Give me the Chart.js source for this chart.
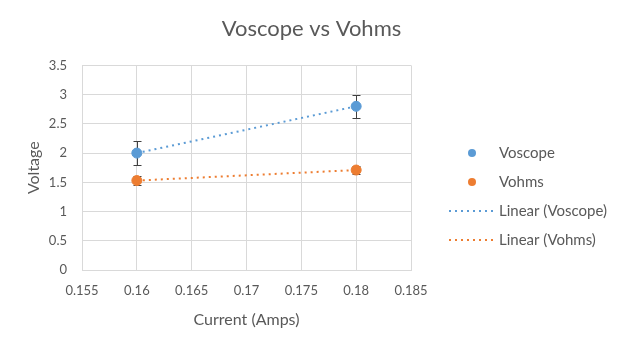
<!DOCTYPE html>
<html>
<head>
<meta charset="utf-8">
<title>Voscope vs Vohms</title>
<script src="https://cdn.jsdelivr.net/npm/chart.js@4.4.1/dist/chart.umd.min.js"></script>
<style>
  body { margin: 0; background: #fff; }
  #wrap { width: 623px; height: 349px; }
</style>
</head>
<body>
<div id="wrap"><canvas id="chart" width="623" height="349"></canvas></div>
<script>
// measurements
const currentAmps = [0.16, 0.18];
const voscope = [2.0, 2.8];
const vohms = [1.53, 1.71];
const voscopeErr = [0.2, 0.2];
const vohmsErr = [0.07, 0.07];

const BLUE = '#5b9bd5';
const ORANGE = '#ed7d31';
const TEXT = '#595959';
const GRID = '#d9d9d9';
const FONT = 'Lato, "Open Sans", sans-serif';

const points = (xs, ys) => xs.map((x, i) => ({ x, y: ys[i] }));

// least squares line across the measured range
function linearFit(xs, ys) {
  const n = xs.length;
  const mx = xs.reduce((a, b) => a + b, 0) / n;
  const my = ys.reduce((a, b) => a + b, 0) / n;
  let num = 0, den = 0;
  xs.forEach((x, i) => { num += (x - mx) * (ys[i] - my); den += (x - mx) ** 2; });
  const slope = num / den;
  const icpt = my - slope * mx;
  const lo = Math.min(...xs), hi = Math.max(...xs);
  return [{ x: lo, y: icpt + slope * lo }, { x: hi, y: icpt + slope * hi }];
}

const errorBars = {
  id: 'errorBars',
  beforeDatasetsDraw(chart) {
    const { ctx, scales: { x, y } } = chart;
    ctx.save();
    ctx.strokeStyle = '#404040';
    ctx.lineWidth = 1;
    chart.data.datasets.forEach(ds => {
      if (!ds.errors) return;
      ds.data.forEach((p, i) => {
        const px = Math.round(x.getPixelForValue(p.x)) + 0.5;
        const top = Math.round(y.getPixelForValue(p.y + ds.errors[i])) + 0.5;
        const bot = Math.round(y.getPixelForValue(p.y - ds.errors[i])) + 0.5;
        ctx.beginPath();
        ctx.moveTo(px, top); ctx.lineTo(px, bot);
        ctx.moveTo(px - 4, top); ctx.lineTo(px + 4, top);
        ctx.moveTo(px - 4, bot); ctx.lineTo(px + 4, bot);
        ctx.stroke();
      });
    });
    ctx.restore();
  }
};

// legend on the right: markers for the series, dotted strokes for the trendlines
const sideLegend = {
  id: 'sideLegend',
  afterDraw(chart) {
    const ctx = chart.ctx;
    ctx.save();
    ctx.font = '15px ' + FONT;
    ctx.textBaseline = 'middle';
    chart.data.datasets.forEach((ds, i) => {
      const y = 153 + i * 29;
      if (ds.showLine) {
        ctx.strokeStyle = ds.borderColor;
        ctx.lineWidth = 2;
        ctx.setLineDash([2, 4]);
        ctx.beginPath();
        ctx.moveTo(449, y); ctx.lineTo(495, y);
        ctx.stroke();
        ctx.setLineDash([]);
      } else {
        ctx.fillStyle = ds.backgroundColor;
        ctx.beginPath();
        ctx.arc(472, y, 4, 0, Math.PI * 2);
        ctx.fill();
      }
      ctx.fillStyle = TEXT;
      ctx.fillText(ds.label, 499, y);
    });
    ctx.restore();
  }
};

new Chart(document.getElementById('chart'), {
  type: 'scatter',
  data: {
    datasets: [
      { label: 'Voscope', data: points(currentAmps, voscope), errors: voscopeErr,
        backgroundColor: BLUE, borderColor: BLUE, pointRadius: 5, showLine: false },
      { label: 'Vohms', data: points(currentAmps, vohms), errors: vohmsErr,
        backgroundColor: ORANGE, borderColor: ORANGE, pointRadius: 5, showLine: false },
      { label: 'Linear (Voscope)', data: linearFit(currentAmps, voscope), showLine: true,
        borderColor: BLUE, borderWidth: 2, borderDash: [2, 4], pointRadius: 0 },
      { label: 'Linear (Vohms)', data: linearFit(currentAmps, vohms), showLine: true,
        borderColor: ORANGE, borderWidth: 2, borderDash: [2, 4], pointRadius: 0 },
    ],
  },
  options: {
    responsive: false,
    animation: false,
    plugins: {
      legend: { display: false },
      tooltip: { enabled: false },
      title: {
        display: true,
        text: 'Voscope vs Vohms',
        color: TEXT,
        font: { family: FONT, size: 22, weight: 'normal' },
        padding: { top: 16, bottom: 23 },
      },
    },
    scales: {
      x: {
        type: 'linear',
        min: 0.155,
        max: 0.185,
        afterFit: s => { s.height = 79; },
        ticks: {
          stepSize: 0.005,
          color: TEXT,
          padding: 13,
          font: { family: FONT, size: 13 },
          callback: v => String(Number(v.toFixed(3))),
        },
        grid: { color: GRID, drawTicks: false },
        border: { color: GRID },
        title: {
          display: true,
          text: 'Current (Amps)',
          color: TEXT,
          font: { family: FONT, size: 16 },
          padding: { top: 0, bottom: 20 },
        },
      },
      y: {
        min: 0,
        max: 3.5,
        afterFit: s => { s.width = 82; },
        ticks: {
          stepSize: 0.5,
          color: TEXT,
          padding: 15,
          font: { family: FONT, size: 13 },
          callback: v => String(Number(v.toFixed(1))),
        },
        grid: { color: GRID, drawTicks: false },
        border: { color: GRID },
        title: {
          display: true,
          text: 'Voltage',
          color: TEXT,
          font: { family: FONT, size: 16 },
          padding: { top: 24, bottom: 0 },
        },
      },
      // empty axis that reserves the column where the legend sits
      legendSpace: {
        position: 'right',
        afterFit: s => { s.width = 212; },
        ticks: { display: false },
        grid: { display: false },
        border: { display: false },
      },
    },
  },
  plugins: [errorBars, sideLegend],
});
</script>
</body>
</html>
